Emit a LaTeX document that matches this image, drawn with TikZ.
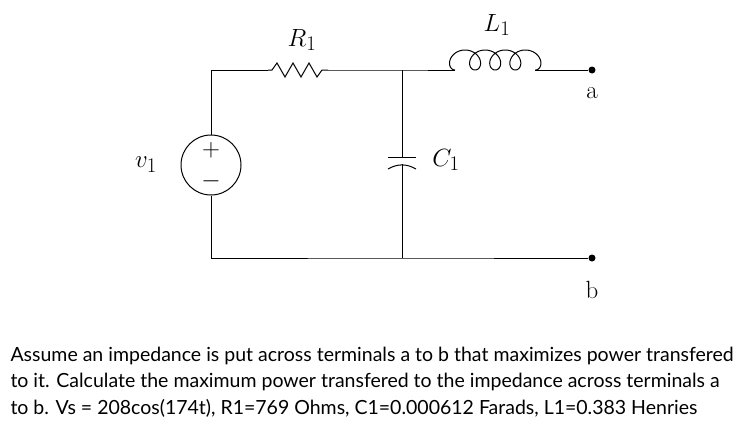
\documentclass[tikz,border=0pt]{standalone}
\usepackage{fontspec}
\newfontfamily\lato{Lato}
\begin{document}
\begin{tikzpicture}[x=1pt,y=-1pt,line width=1pt,
  dot/.style={circle,fill,inner sep=0pt,minimum size=7pt},
  lbl/.style={font=\Huge},
  txt/.style={font=\lato\fontsize{19.5}{26.5}\selectfont,align=left,anchor=base west,inner sep=0pt}]
\useasboundingbox (0,0) rectangle (753,431);
\coordinate (tl) at (211,70); \coordinate (bl) at (211,258);
\coordinate (r1) at (268,70); \coordinate (r2) at (328,70);
\coordinate (n) at (402,70); \coordinate (nb) at (402,258);
\node[dot] (a) at (592,70) {}; \node[dot] (b) at (592,258) {};
\node[circle,draw,minimum size=60pt,inner sep=0pt] (vs) at (211,165) {};
\draw (vs.north) -- (tl) -- (r1);
\draw (r1) -- ++(4,0) -- ++(5,-7) -- ++(8,14) -- ++(8,-14) -- ++(8,14) -- ++(8,-14) -- ++(8,14) -- ++(5,-7) -- (r2);
\draw (r2) -- (n) -- (455,70);
\draw plot[domain=0:1440,samples=240,variable=\t] ({455+3.2*(\t/180)*3.14159-10*sin(\t)},{70-10*(1-cos(\t))});
\draw (535.4,70) -- (a);
\draw (vs.south) -- (bl) -- (nb) -- (b);
\draw (n) -- (402,157); \draw (nb) -- (402,164);
\draw (388,157) -- (416,157);
\draw (388,169) to[bend left=30] (416,169);
\node[lbl] (plus) at (211,150) {$+$};
\node[lbl] (minus) at (211,181) {$-$};
\node[lbl] (v1) at (146,165) {$v_1$};
\node[lbl] (R) at (302,40) {$R_1$};
\node[lbl] (L) at (497,25) {$L_1$};
\node[lbl] (C) at (446,160) {$C_1$};
\node[lbl] (la) at (592,93) {a};
\node[lbl] (lb) at (592,290) {b};
\node[txt] (t) at (10,414) {Assume an impedance is put across terminals a to b that maximizes power transfered\\to it. Calculate the maximum power transfered to the impedance across terminals a\\to b. Vs = 208cos(174t), R1=769 Ohms, C1=0.000612 Farads, L1=0.383 Henries};
\end{tikzpicture}
\end{document}
